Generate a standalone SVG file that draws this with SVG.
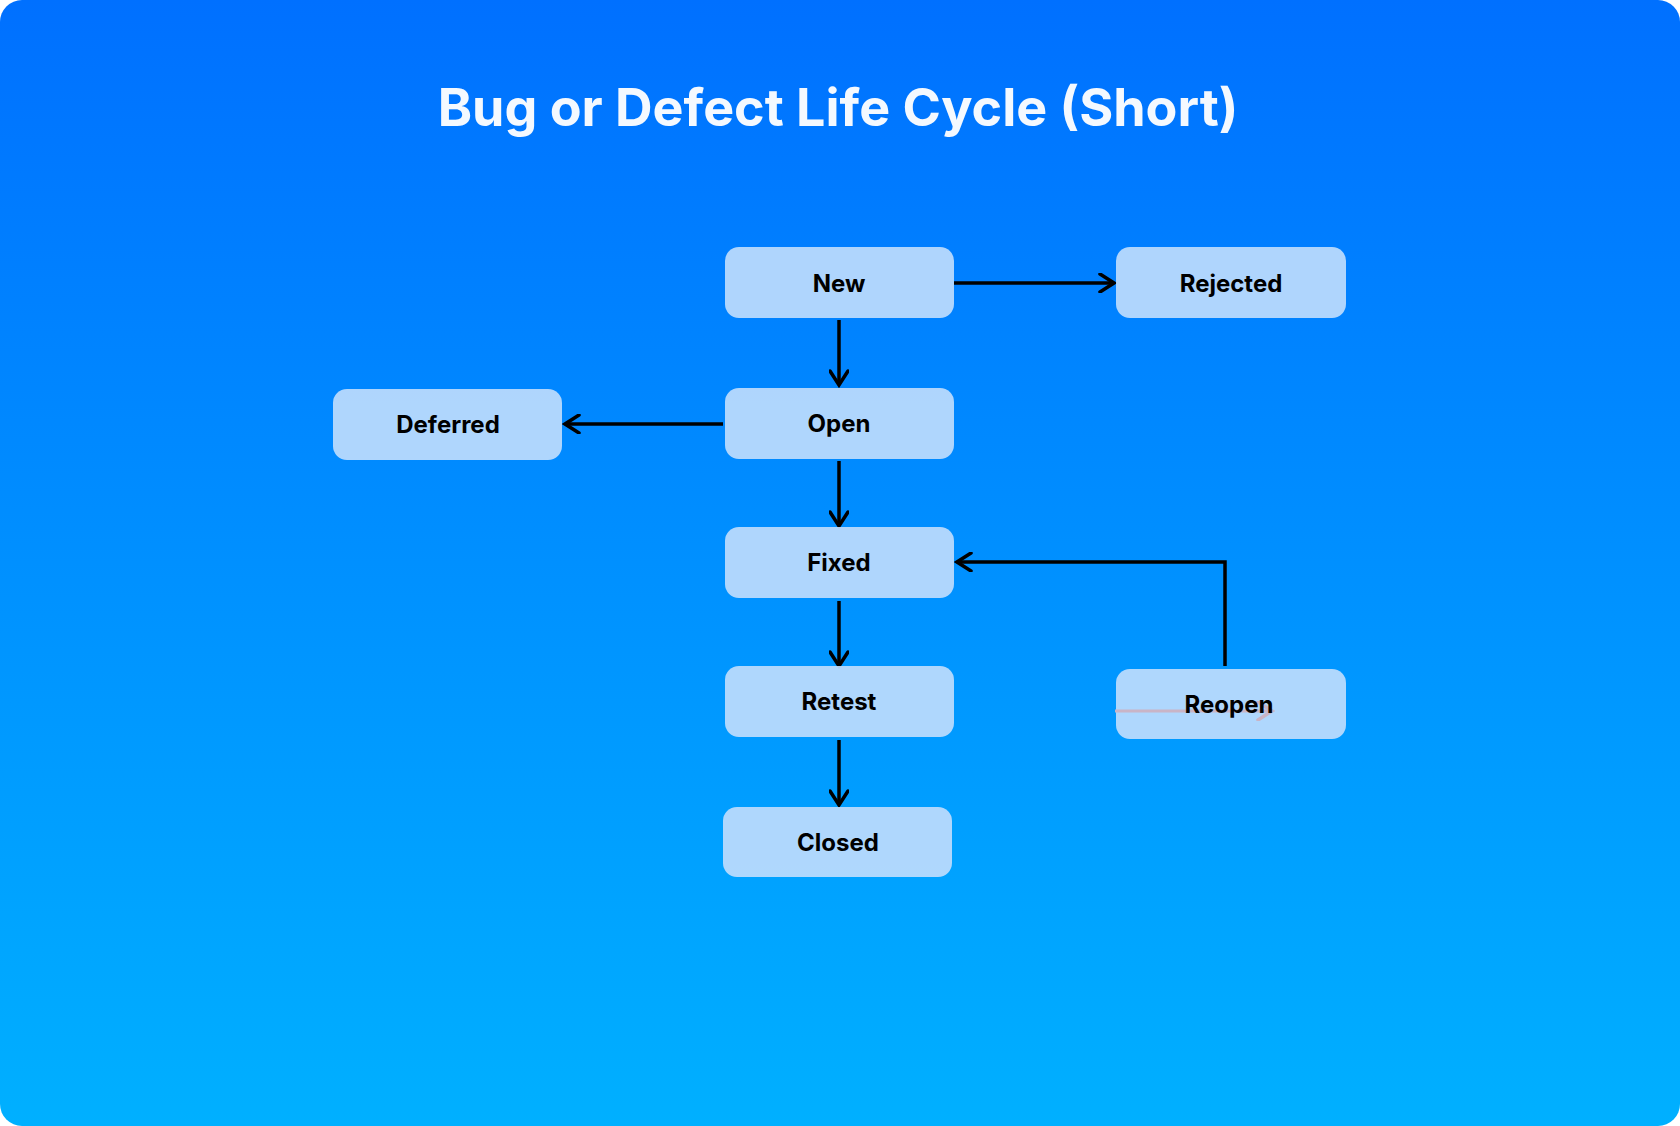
<svg xmlns="http://www.w3.org/2000/svg" width="1680" height="1126" viewBox="0 0 1680 1126">
<defs>
<linearGradient id="bg" x1="0" y1="0" x2="0" y2="1"><stop offset="0" stop-color="#0070ff"/><stop offset="1" stop-color="#00b0ff"/></linearGradient>
<marker id="ah" viewBox="0 0 20 20" refX="17" refY="10" markerWidth="20" markerHeight="20" markerUnits="userSpaceOnUse" orient="auto"><path d="M3 1 L17 10 L3 19" fill="none" stroke="#000" stroke-width="3.5" stroke-linecap="round"/></marker>
<marker id="ahf" viewBox="0 0 20 20" refX="17" refY="10" markerWidth="20" markerHeight="20" markerUnits="userSpaceOnUse" orient="auto"><path d="M3 1 L17 10 L3 19" fill="none" stroke="#c9b4c6" stroke-width="3.5" stroke-linecap="round"/></marker>
</defs>
<style>
.n rect{fill:#bcdcfd;fill-opacity:0.93}
.n text{font-family:Inter,"Liberation Sans",sans-serif;font-weight:700;font-size:24px;fill:#000;text-anchor:middle;dominant-baseline:central}
.c path{fill:none;stroke:#000;stroke-width:3.5;marker-end:url(#ah)}
</style>
<rect width="1680" height="1126" rx="22" fill="url(#bg)"/>
<text x="838" y="126" font-family="Inter,'Liberation Sans',sans-serif" font-weight="700" font-size="52" fill="#f4f9ff" text-anchor="middle">Bug or Defect Life Cycle (Short)</text>
<g class="c">
<path d="M954 283 H1114"/>
<path d="M839 320 V385"/>
<path d="M723 424 H565"/>
<path d="M839 461 V526"/>
<path d="M839 601 V666"/>
<path d="M839 740 V805"/>
<path d="M1225 666 V562 H957"/>
</g>
<g id="new" class="n"><rect x="725" y="247" width="229" height="71" rx="14"/><text x="839" y="283">New</text></g>
<g id="rejected" class="n"><rect x="1116" y="247" width="230" height="71" rx="14"/><text x="1231" y="283">Rejected</text></g>
<g id="open" class="n"><rect x="725" y="388" width="229" height="71" rx="14"/><text x="839" y="423">Open</text></g>
<g id="deferred" class="n"><rect x="333" y="389" width="229" height="71" rx="14"/><text x="448" y="424">Deferred</text></g>
<g id="fixed" class="n"><rect x="725" y="527" width="229" height="71" rx="14"/><text x="839" y="562">Fixed</text></g>
<g id="retest" class="n"><rect x="725" y="666" width="229" height="71" rx="14"/><text x="839" y="701">Retest</text></g>
<g id="reopen" class="n"><rect x="1116" y="669" width="230" height="70" rx="14"/>
<path d="M1115 711 H1272" fill="none" stroke="#c9b4c6" stroke-width="3" marker-end="url(#ahf)"/>
<text x="1229" y="704">Reopen</text></g>
<g id="closed" class="n"><rect x="723" y="807" width="229" height="70" rx="14"/><text x="838" y="842">Closed</text></g>
</svg>
